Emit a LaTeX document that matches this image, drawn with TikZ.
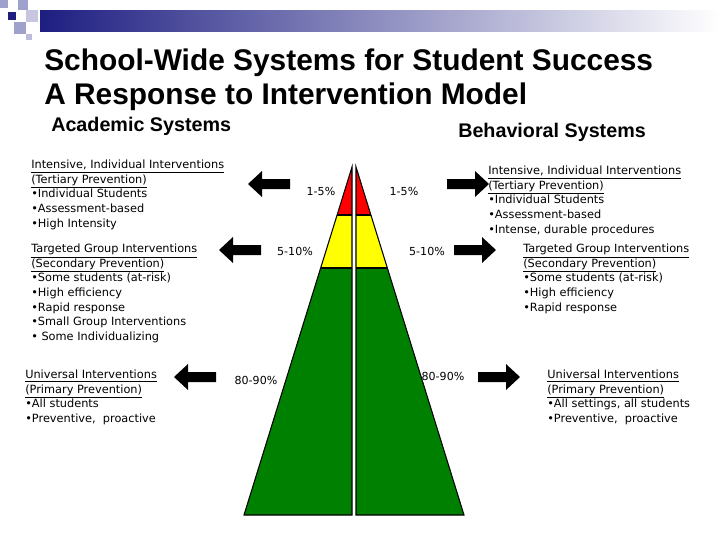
\documentclass[tikz,border=0pt]{standalone}
\usepackage{fontspec}
\setmainfont{Liberation Sans}
\newfontfamily\smallf{DejaVu Sans}
\definecolor{navy}{RGB}{30,30,130}
\definecolor{lav}{RGB}{160,160,205}
\definecolor{pgreen}{RGB}{0,128,0}
\definecolor{pyell}{RGB}{255,255,0}
\definecolor{pred}{RGB}{255,0,0}
\newcommand{\rarr}[1]{\fill (#1) ++(-21,-5) -- ++(28,0) -- ++(0,-8) -- ++(14,13) -- ++(-14,13) -- ++(0,-8) -- ++(-28,0) -- cycle;}
\newcommand{\larr}[1]{\fill (#1) ++(21,-5) -- ++(-28,0) -- ++(0,-8) -- ++(-14,13) -- ++(14,13) -- ++(0,-8) -- ++(28,0) -- cycle;}
\begin{document}
\begin{tikzpicture}[x=0.75pt,y=-0.75pt,
  blk/.style={anchor=north west,align=left,inner sep=0pt,font=\smallf\fontsize{8.5}{10.9}\selectfont},
  pct/.style={font=\smallf\fontsize{8.3}{9}\selectfont,inner sep=0pt},
  tier/.style={draw=black,line width=0.8pt}]
\useasboundingbox (0,0) rectangle (720,540);
\fill[white] (0,0) rectangle (720,540);
% header
\shade[left color=navy,right color=white] (40,10) rectangle (720,31);
\fill[lav] (0,0) rectangle (8,8);
\fill[lav] (18,0) rectangle (28,10);
\fill[navy] (8,12) rectangle (16,20);
\fill[lav!60] (26,10) rectangle (38,22);
\fill[lav] (14,22) rectangle (26,34);
\fill[lav!70] (26,34) rectangle (32,40);
\node[anchor=base west,font=\bfseries\fontsize{22.4}{24}\selectfont,inner sep=0pt] (t1) at (44,70) {School-Wide Systems for Student Success};
\node[anchor=base west,font=\bfseries\fontsize{22.4}{24}\selectfont,inner sep=0pt] (t2) at (44,104) {A Response to Intervention Model};
\node[anchor=base west,font=\bfseries\fontsize{14.8}{15}\selectfont,inner sep=0pt] (acad) at (51,131) {Academic Systems};
\node[anchor=base west,font=\bfseries\fontsize{14.8}{15}\selectfont,inner sep=0pt] (beh) at (458,137) {Behavioral Systems};
% pyramid left half
\fill[pgreen] (320.7,268) -- (244,515) -- (352,515) -- (352,268) -- cycle;
\fill[pyell] (337.1,215) -- (320.7,268) -- (352,268) -- (352,215) -- cycle;
\fill[pred] (352,167) -- (337.1,215) -- (352,215) -- cycle;
\draw[tier] (352,167) -- (244,515) -- (352,515) -- cycle;
\draw[tier] (337.1,215) -- (352,215) (320.7,268) -- (352,268);
% right half
\fill[pgreen] (387.3,268) -- (464,515) -- (356,515) -- (356,268) -- cycle;
\fill[pyell] (370.9,215) -- (387.3,268) -- (356,268) -- (356,215) -- cycle;
\fill[pred] (356,167) -- (370.9,215) -- (356,215) -- cycle;
\draw[tier] (356,167) -- (464,515) -- (356,515) -- cycle;
\draw[tier] (370.9,215) -- (356,215) (387.3,268) -- (356,268);
% percentages
\node[pct] (p1l) at (321,191) {1-5\%};
\node[pct] (p1r) at (404,191) {1-5\%};
\node[pct] (p2l) at (295,251) {5-10\%};
\node[pct] (p2r) at (427,251) {5-10\%};
\node[pct] (p3l) at (256,380) {80-90\%};
\node[pct] (p3r) at (443,376) {80-90\%};
% arrows
\coordinate (a1l) at (269,184); \larr{a1l}
\coordinate (a2l) at (240,250); \larr{a2l}
\coordinate (a3l) at (195,377); \larr{a3l}
\coordinate (a1r) at (468,184); \rarr{a1r}
\coordinate (a2r) at (475,250); \rarr{a2r}
\coordinate (a3r) at (499,377); \rarr{a3r}
% text blocks
\node[blk] (l1) at (31,160) {\underline{Intensive, Individual Interventions}\\\underline{(Tertiary Prevention)}\\•Individual Students\\•Assessment-based\\•High Intensity};
\node[blk] (l2) at (31,244) {\underline{Targeted Group Interventions}\\\underline{(Secondary Prevention)}\\•Some students (at-risk)\\•High efficiency\\•Rapid response\\•Small Group Interventions\\• Some Individualizing};
\node[blk] (l3) at (25,370) {\underline{Universal Interventions}\\\underline{(Primary Prevention)}\\•All students\\•Preventive,\ \ proactive};
\node[blk] (r1) at (488,166) {\underline{Intensive, Individual Interventions}\\\underline{(Tertiary Prevention)}\\•Individual Students\\•Assessment-based\\•Intense, durable procedures};
\node[blk] (r2) at (523,244) {\underline{Targeted Group Interventions}\\\underline{(Secondary Prevention)}\\•Some students (at-risk)\\•High efficiency\\•Rapid response};
\node[blk] (r3) at (547,370) {\underline{Universal Interventions}\\\underline{(Primary Prevention)}\\•All settings, all students\\•Preventive,\ \ proactive};
\end{tikzpicture}
\end{document}
